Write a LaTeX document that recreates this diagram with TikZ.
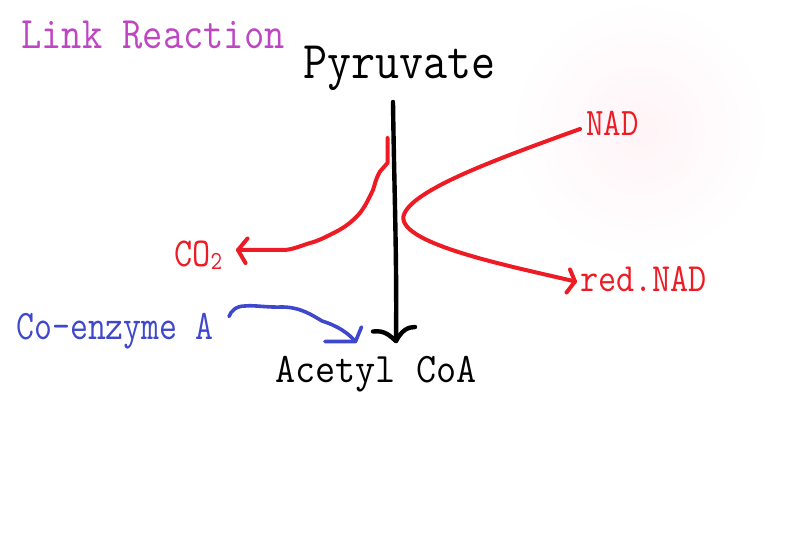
\documentclass[tikz,border=0pt]{standalone}
\usepackage{graphicx}
\usetikzlibrary{calc}
\definecolor{pred}{RGB}{237,28,36}
\definecolor{pmag}{RGB}{190,70,195}
\definecolor{pblue}{RGB}{63,72,204}
\definecolor{glow}{RGB}{255,244,247}
\newcommand{\txt}[3]{\fontsize{#1}{#1}\selectfont\scalebox{#2}[1]{#3}}
\tikzset{
  lbl/.style={inner sep=0pt, anchor=base west, font=\ttfamily},
  stroke/.style={line cap=round, line join=round},
  blk/.style={stroke, draw=black, line width=4.4pt},
  redl/.style={stroke, draw=pred, line width=4pt},
  bluel/.style={stroke, draw=pblue, line width=3.6pt}
}
\begin{document}
\begin{tikzpicture}[x=1pt,y=-1pt]
\useasboundingbox (0,0) rectangle (801,540);
\fill[white] (0,0) rectangle (801,540);
% faint pink glow
\shade[inner color=glow, outer color=white] (640,130) circle (130);

% texts
\node[lbl, text=pmag] (title) at (21,49) {\txt{45}{0.875}{Link Reaction}};
\node[lbl, text=black] (pyr) at (303,79) {\txt{53}{0.88}{Pyruvate}};
\node[lbl, text=pred] (nad) at (586,136) {\txt{39}{0.87}{NAD}};
\node[lbl, text=pred] (rnad) at (580,292) {\txt{40}{0.88}{red.NAD}};
\node[lbl, text=pred] (co2) at (174,267) {\txt{41}{0.86}{CO\raisebox{-0.05em}{\fontsize{26}{26}\selectfont 2}}};
\node[lbl, text=pblue] (coa) at (16,339) {\txt{42}{0.83}{Co-enzyme A}};
\node[lbl, text=black] (acoa) at (275,382) {\txt{42}{0.93}{Acetyl CoA}};

% anchor points for connectors
\coordinate (mTop) at (393,102);
\coordinate (mTip) at (396,341);
\coordinate (cStart) at (387.5,138);
\coordinate (cTip) at (238,250);
\coordinate (nStart) at (580,129);
\coordinate (nTip) at (575,281.5);
\coordinate (bStart) at (229,316.5);
\coordinate (bTip) at (355.5,341.5);

% main black arrow
\draw[blk] (mTop) .. controls (394,180) and (397,260) .. (mTip);
\draw[blk] (373,331.5) .. controls (385,330) and (390,336) .. (mTip)
  .. controls (402,330) and (408,327) .. (415,327);

% CO2 branch
\draw[redl] (cStart) -- (387.5,163) -- (380,171.5)
  .. controls (376,178) and (375,184) .. (373,190)
  .. controls (368,200) and (366,205) .. (360,213)
  .. controls (352,222) and (345,227) .. (336.5,231.5)
  .. controls (326,237) and (318,241) .. (310,243)
  .. controls (300,246) and (292,250) .. (283,250)
  -- (cTip);
\draw[redl] (247.5,238.5) -- (cTip) -- (245.5,263);

% NAD branch
\draw[redl] (nStart) .. controls (500,158) and (410,190) .. (403.5,216)
  .. controls (398,245) and (520,268) .. (nTip);
\draw[redl] (570,269.5) -- (nTip) -- (566.5,292.5);

% Co-enzyme A branch
\draw[bluel] (bStart) .. controls (231,311) and (236,306) .. (245,306)
  .. controls (255,305) and (265,307.5) .. (282,307)
  .. controls (300,307) and (312,315) .. (322,321)
  .. controls (338,326) and (348,333) .. (bTip);
\draw[bluel] (325,341.5) -- (bTip) -- (361.5,327);
\end{tikzpicture}
\end{document}
